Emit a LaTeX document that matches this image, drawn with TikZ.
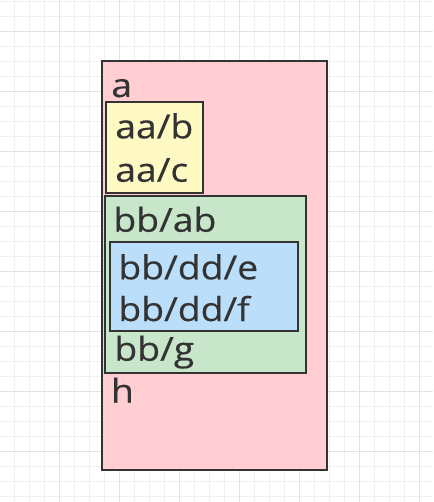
\documentclass[tikz,border=0pt]{standalone}
\usepackage{fontspec}
\setmainfont{Open Sans}[FakeStretch=1.13,FakeBold=0.4]
\definecolor{ink}{HTML}{333333}
\definecolor{gridminor}{HTML}{F0F0F0}
\definecolor{gridmajor}{HTML}{E3E3E3}
\definecolor{pinkfill}{HTML}{FFCDD2}
\definecolor{yellowfill}{HTML}{FFF9C4}
\definecolor{greenfill}{HTML}{C8E6C9}
\definecolor{bluefill}{HTML}{BBDEFB}
\begin{document}
\begin{tikzpicture}[x=1pt,y=-1pt,
  minorline/.style={draw=gridminor, line width=1pt},
  majorline/.style={draw=gridmajor, line width=1pt},
  box/.style={draw=ink, line width=2pt, inner sep=0pt, outer sep=0pt, anchor=north west, shape=rectangle},
  lbl/.style={anchor=base west, inner sep=0pt, outer sep=0pt, text=ink, font=\fontsize{33}{33}\selectfont}]
\useasboundingbox (0,0) rectangle (433,502);
\fill[white] (0,0) rectangle (433,502);
% grid
\foreach \x in {14.7,29.7,...,433} \draw[minorline] (\x,0) -- (\x,502);
\foreach \y in {1.3,16.3,...,502} \draw[minorline] (0,\y) -- (433,\y);
\foreach \x in {59.7,119.7,...,433} \draw[majorline] (\x,0) -- (\x,502);
\foreach \y in {31.3,91.3,...,502} \draw[majorline] (0,\y) -- (433,\y);
% boxes
\node[box, fill=pinkfill, minimum width=225pt, minimum height=408.5pt] (outer) at (102,61) {};
\node[box, fill=yellowfill, minimum width=97pt, minimum height=91pt] (aabox) at (106,102) {};
\node[box, fill=greenfill, minimum width=201pt, minimum height=177pt] (bbbox) at (105,196) {};
\node[box, fill=bluefill, minimum width=188pt, minimum height=89pt] (ddbox) at (110,242) {};
% labels
\node[lbl] (la) at (111.3,97) {a};
\node[lbl] (laab) at (115.3,138.3) {aa/b};
\node[lbl] (laac) at (115.3,181.7) {aa/c};
\node[lbl] (lbbab) at (113.4,231.7) {bb/ab};
\node[lbl] (lbbdde) at (118.4,279.3) {bb/dd/e};
\node[lbl] (lbbddf) at (118.4,321) {bb/dd/f};
\node[lbl] (lbbg) at (114.4,360.7) {bb/g};
\node[lbl] (lh) at (111,402.7) {h};
\end{tikzpicture}
\end{document}
